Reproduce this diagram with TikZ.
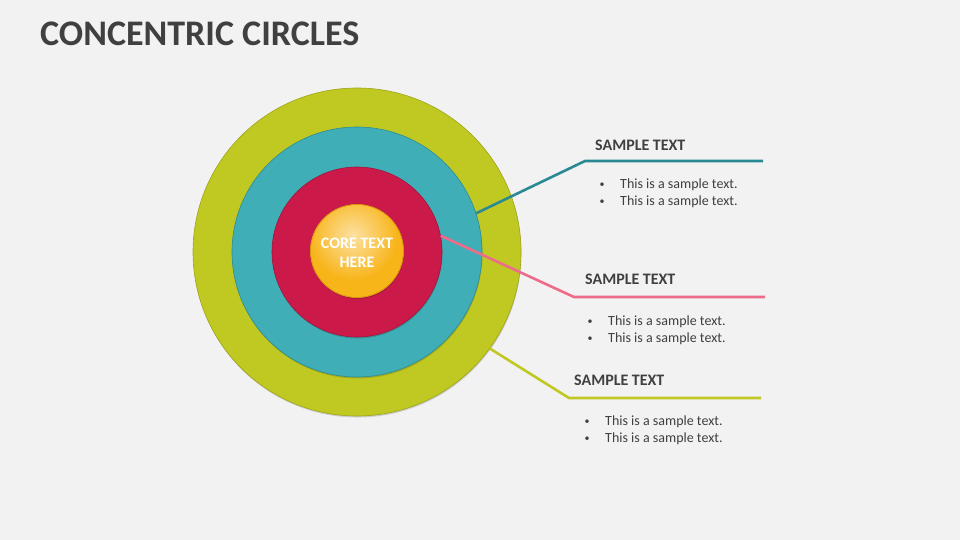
\documentclass[tikz,border=0pt]{standalone}
\usepackage{fontspec}
\setmainfont{Carlito}
\usetikzlibrary{shadows}
\definecolor{bg}{HTML}{F2F2F2}
\definecolor{txt}{HTML}{404040}
\definecolor{cgreen}{HTML}{C0C922}
\definecolor{cgreenD}{HTML}{9EA41A}
\definecolor{cteal}{HTML}{3FAEB6}
\definecolor{ctealD}{HTML}{2E8A93}
\definecolor{cred}{HTML}{CB1A4A}
\definecolor{credD}{HTML}{A3133A}
\definecolor{cyel}{HTML}{F8B51A}
\definecolor{cyelD}{HTML}{D99A10}
\definecolor{ltealline}{HTML}{2A8A93}
\definecolor{lpink}{HTML}{EF6B8B}
\definecolor{lgreen}{HTML}{C2C823}
\tikzset{
  ring/.style={circle, inner sep=0pt, line width=0.6pt,
    drop shadow={shadow xshift=0.5pt, shadow yshift=-1.5pt, opacity=0.15, fill=black}},
  conn/.style={line width=2.6pt},
  head/.style={anchor=base west, inner sep=0pt, text=txt, font=\fontsize{16}{19}\selectfont\bfseries},
  item/.style={anchor=base west, inner sep=0pt, text=txt, font=\fontsize{14}{17}\selectfont},
}
\newcommand{\bul}[1]{\makebox[23pt][l]{\,\raisebox{1pt}{\fontsize{10}{12}\selectfont•}}#1}
\begin{document}
\begin{tikzpicture}[x=1pt,y=-1pt]
\useasboundingbox (0,0) rectangle (960,540);
\fill[bg] (0,0) rectangle (960,540);

\node[anchor=base west, inner sep=0pt, text=txt, font=\fontsize{36}{40}\selectfont\bfseries] (title) at (40,46) {CONCENTRIC CIRCLES};

% rings
\node[ring, fill=cgreen, draw=cgreenD, minimum size=328pt] (outer) at (357,252) {};
\node[ring, fill=cteal, draw=ctealD, minimum size=250pt] (teal) at (357,252) {};
\node[ring, fill=cred, draw=credD, minimum size=170pt] (red) at (357,252) {};
\node[ring, fill=cyel, draw=cyelD, minimum size=93pt] (core) at (357,251) {};
\begin{scope}
  \clip (357,251) circle (46pt);
  \shade[inner color=white!60!cyel, outer color=cyel] (353,236) circle (44pt);
\end{scope}
\draw[cyelD, line width=0.6pt] (core) circle (46.5pt);
\node[inner sep=0pt, align=center, text=white,
  font=\fontsize{16}{19}\selectfont\bfseries] (coretext) at (357,253) {CORE TEXT\\HERE};

% connectors
\coordinate (k1) at (585,161);
\coordinate (e1) at (763,161);
\coordinate (k2) at (574,297);
\coordinate (e2) at (765,297);
\coordinate (k3) at (569,398);
\coordinate (e3) at (761,398);
\draw[conn, ltealline] (teal.18.6) -- (k1) -- (e1);
\draw[conn, lpink] (red.11.4) -- (k2) -- (e2);
\draw[conn, lgreen] (outer.-36.6) -- (k3) -- (e3);

% texts
\node[head] (h1) at (595,151) {SAMPLE TEXT};
\node[item] (a1) at (597,188.5) {\bul{This is a sample text.}};
\node[item] (b1) at (597,205.5) {\bul{This is a sample text.}};

\node[head] (h2) at (585,284) {SAMPLE TEXT};
\node[item] (a2) at (585,325) {\bul{This is a sample text.}};
\node[item] (b2) at (585,342) {\bul{This is a sample text.}};

\node[head] (h3) at (574,385.5) {SAMPLE TEXT};
\node[item] (a3) at (582,425) {\bul{This is a sample text.}};
\node[item] (b3) at (582,442) {\bul{This is a sample text.}};
\end{tikzpicture}
\end{document}
